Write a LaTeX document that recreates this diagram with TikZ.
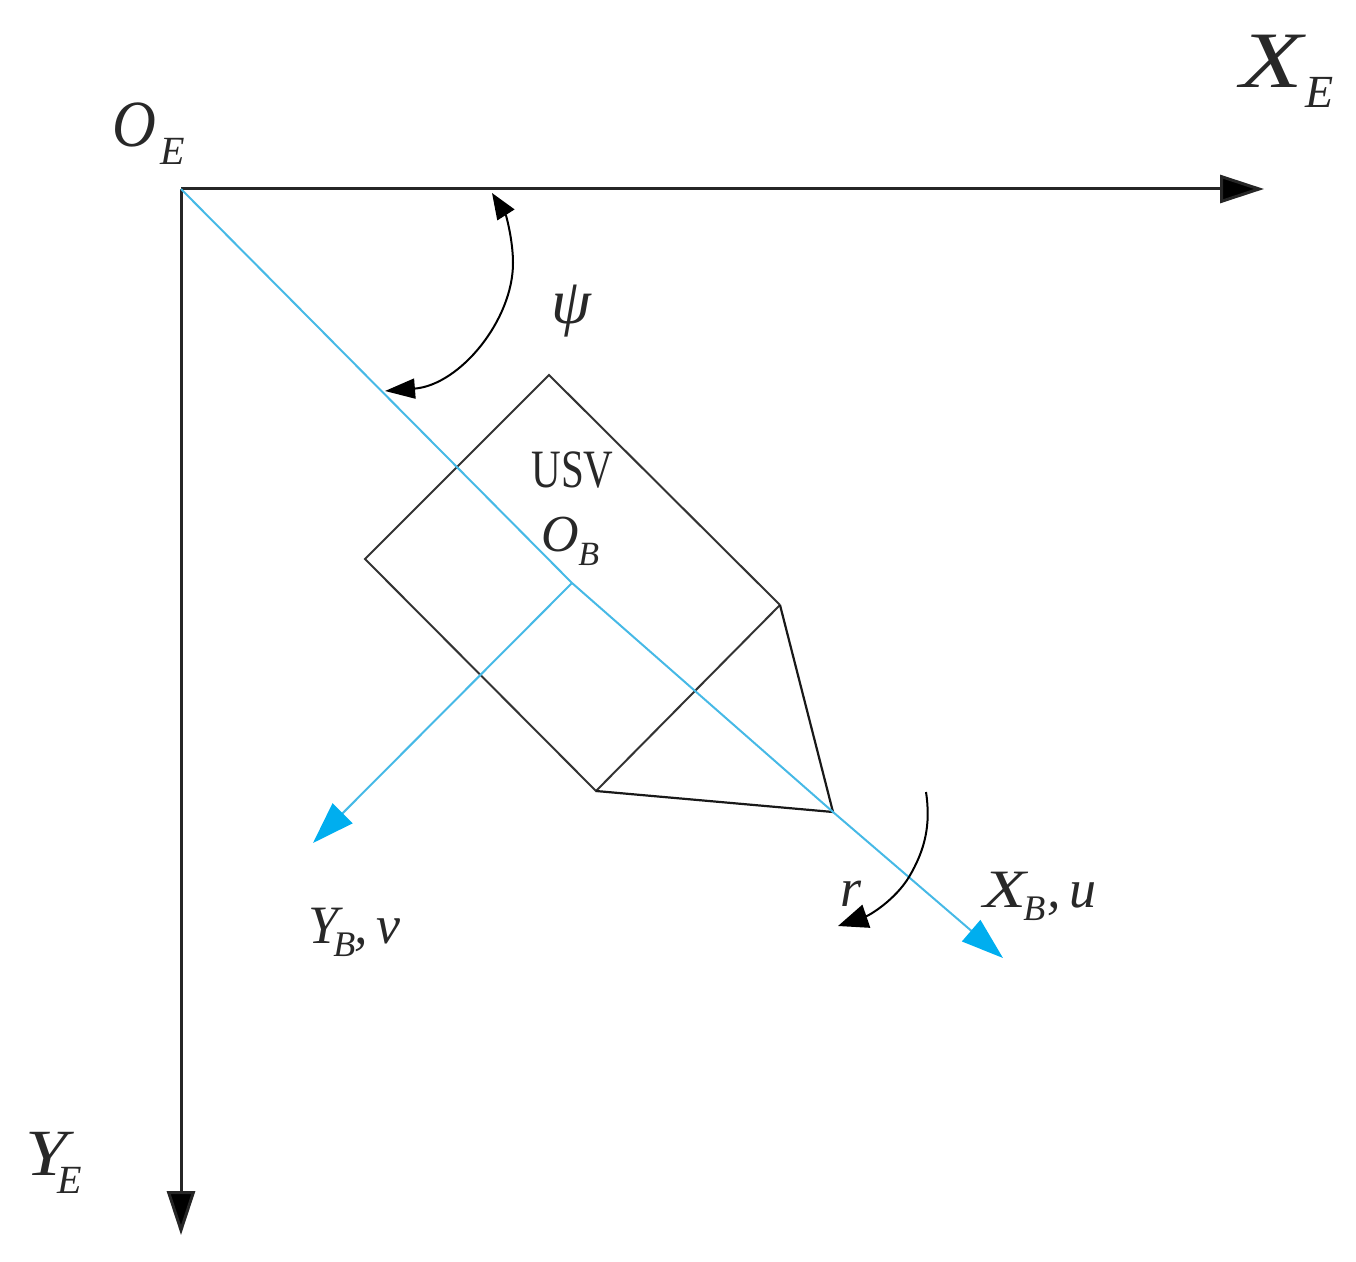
\documentclass[tikz,border=0pt]{standalone}
\usepackage{fontspec}
\setmainfont{Liberation Serif}
\usetikzlibrary{arrows.meta}
\definecolor{usvblue}{RGB}{0,174,239}
\definecolor{lineblue}{RGB}{70,185,230}
\definecolor{inkgrey}{RGB}{40,40,40}
% base letter (size, x-stretch, letter), advance, drop, subscript (size, letter)
\newcommand{\sublabel}[7]{{\itshape\fontsize{#1}{#1}\selectfont\makebox[#4pt][l]{\scalebox{#2}[1]{#3}}\raisebox{-#5pt}{\fontsize{#6}{#6}\selectfont #7}}}
\tikzset{
  axisline/.style={draw=black!85,line width=1.5pt,-{Triangle[length=22pt,width=14pt,fill=black]}},
  bodyaxis/.style={draw=lineblue,line width=1pt,-{Triangle[length=21pt,width=14pt,fill=usvblue,color=usvblue]}},
  hull/.style={draw=black!80,line width=1pt,line join=miter},
  bow/.style={draw=black!90,line width=1.1pt},
  turnarc/.style={draw=black,line width=1pt},
  lab/.style={inner sep=0pt,text=inkgrey,anchor=base west}
}
\begin{document}
\begin{tikzpicture}[x=0.5pt,y=-0.5pt]
\useasboundingbox (0,0) rectangle (1356,1262);
% frame points
\coordinate (OE) at (181,189);
\coordinate (XE) at (1264,189);
\coordinate (YE) at (181,1235);
\coordinate (XB) at (1003,958);
\coordinate (OB) at (572,583);
\coordinate (YB) at (313,843);
\coordinate (h1) at (549,375);
\coordinate (h2) at (780,605);
\coordinate (h3) at (833,812);
\coordinate (h4) at (596,791);
\coordinate (h5) at (365,559);
\coordinate (psiA) at (492,193);
\coordinate (psiM) at (513,263);
\coordinate (psiB) at (385,391);
\coordinate (rA) at (926,792);
\coordinate (rM) at (909,877);
\coordinate (rB) at (838,926);
% axes
\draw[axisline] (OE) -- (XE);
\draw[axisline] (OE) -- (YE);
% hull
\draw[hull] (h2) -- (h1) -- (h5) -- (h4) -- (h2);
\draw[bow] (h2) -- (h3) -- (h4);
% body axes
\draw[bodyaxis] (OE) -- (OB) -- (h3) -- (XB);
\draw[bodyaxis] (OB) -- (YB);
% arcs
\draw[turnarc,{Triangle[length=13pt,width=10pt,fill=black]}-{Triangle[length=15pt,width=10pt,fill=black]}]
  (psiA) .. controls (506,215) and (513,240) .. (psiM) .. controls (513,320) and (460,385) .. (psiB);
\draw[turnarc,-{Triangle[length=15pt,width=12pt,fill=black]}]
  (rA) .. controls (931,825) and (925,850) .. (rM) .. controls (895,900) and (870,915) .. (rB);
% labels
\node[lab] (tXE) at (1240,88) {\sublabel{40}{1.28}{X}{32.5}{10}{23}{E}};
\node[lab] (tOE) at (112,147) {\sublabel{33}{.92}{O}{24}{9}{20}{E}};
\node[lab] (tYE) at (25,1175) {\sublabel{33}{1.15}{Y}{16}{9}{20}{E}};
\node[lab,font=\itshape\fontsize{32}{32}\selectfont] (tpsi) at (551,324) {ψ};
\node[lab,font=\fontsize{27}{27}\selectfont] (tusv) at (531,488) {\scalebox{.76}[1]{USV}};
\node[lab] (tOB) at (541,552) {\sublabel{26}{1}{O}{18.5}{7}{17}{B}};
\node[lab,font=\itshape\fontsize{27}{27}\selectfont] (tr) at (840,906) {r};
\node[lab] (tXB) at (983,907) {\sublabel{27}{1.3}{X}{20}{6.5}{18}{\makebox[12pt][l]{B}}\itshape\fontsize{27}{27}\selectfont,\,u};
\node[lab] (tYB) at (308,943) {\sublabel{27}{1}{Y}{12.5}{6.5}{18}{\makebox[10.5pt][l]{B}}\itshape\fontsize{27}{27}\selectfont,\,v};
\end{tikzpicture}
\end{document}
